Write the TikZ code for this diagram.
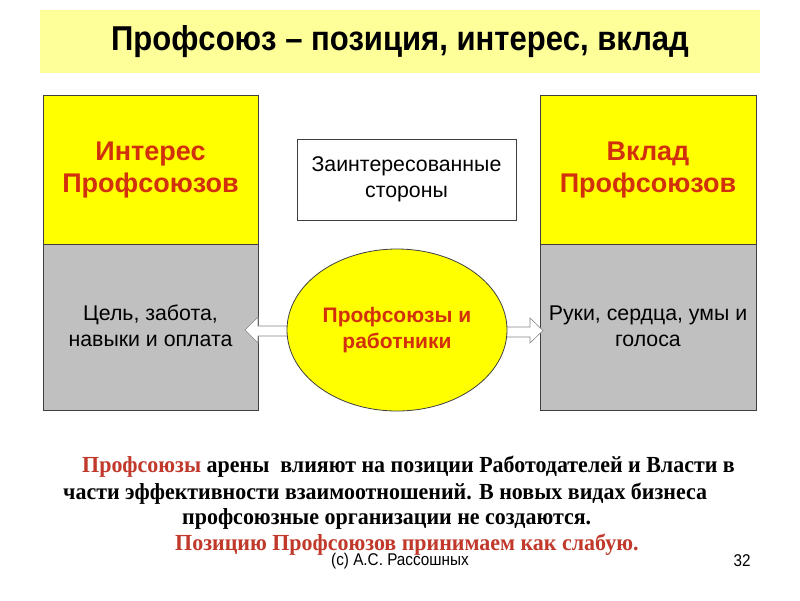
\documentclass[tikz,border=0pt]{standalone}
\usepackage{fontspec}
\setmainfont{Liberation Sans}
\newfontfamily\titlefont[FakeStretch=0.9]{Liberation Sans}
\newfontfamily\bodyserif[FakeStretch=0.955]{Liberation Serif}
\usetikzlibrary{shapes.geometric,shapes.arrows}
\definecolor{banner}{HTML}{FFFF99}
\definecolor{ylw}{HTML}{FFFF00}
\definecolor{gry}{HTML}{C0C0C0}
\definecolor{redt}{HTML}{D2300C}
\definecolor{redb}{HTML}{C0392B}
\definecolor{edge}{HTML}{404040}
\begin{document}
\begin{tikzpicture}[x=1pt,y=-1pt,
  yellowbox/.style={draw=edge,line width=0.8pt,fill=ylw},
  greybox/.style={draw=edge,line width=0.8pt,fill=gry},
  headtxt/.style={text=redt,font=\fontsize{27}{32}\selectfont\bfseries,align=center},
  plaintxt/.style={font=\fontsize{21.3}{26}\selectfont,align=center},
  blockarrow/.style={draw=gry!70!black,fill=white,line width=0.6pt},
  bodyline/.style={font=\bodyserif\fontsize{23}{26}\selectfont\bfseries,anchor=base west,inner sep=0pt}]
\useasboundingbox (0,0) rectangle (800,600);
\fill[white] (0,0) rectangle (800,600);
% title
\node[fill=banner,minimum width=720pt,minimum height=63pt,inner sep=0pt] (title) at (400,41.5)
  {\titlefont\fontsize{34.5}{38}\selectfont\bfseries Профсоюз – позиция, интерес, вклад};
% left box
\draw[yellowbox] (43,95) rectangle (258,244);
\draw[greybox] (43,244) rectangle (258,410);
\node[headtxt] (lh) at (150.5,170) {Интерес\\Профсоюзов};
\node[plaintxt] (lg) at (150.5,326) {Цель, забота,\\навыки и оплата};
% right box
\draw[yellowbox] (540,95) rectangle (756,244);
\draw[greybox] (540,244) rectangle (756,410);
\node[headtxt] (rh) at (648,170) {Вклад\\Профсоюзов};
\node[plaintxt] (rg) at (648,326) {Руки, сердца, умы и\\голоса};
% center box
\node[draw=edge,line width=0.8pt,fill=white,minimum width=219pt,minimum height=81pt,plaintxt] (stake) at (406.5,179.5) {Заинтересованные\\стороны};
% arrows
\draw[blockarrow] (288,326) -- (258,326) -- (258,317) -- (245,330) -- (258,343) -- (258,336) -- (288,336) -- cycle;
\draw[blockarrow] (502,327) -- (530,327) -- (530,318) -- (543,330.5) -- (530,343) -- (530,337) -- (502,337) -- cycle;
% ellipse
\node[ellipse,draw=edge,line width=0.8pt,fill=ylw,minimum width=220pt,minimum height=162pt,inner sep=0pt,
  text=redt,font=\fontsize{21}{25.5}\selectfont\bfseries,align=center] (ell) at (397,330) {Профсоюзы и\\работники};
% bottom text
\node[bodyline] (b1) at (82,472) {\textcolor{redb}{Профсоюзы} арены \ влияют на позиции Работодателей и Власти в};
\node[bodyline] (b2) at (63,499) {части эффективности взаимоотношений. В новых видах бизнеса};
\node[bodyline] (b3) at (182,524) {профсоюзные организации не создаются.};
\node[bodyline,text=redb] (b4) at (175,550) {Позицию Профсоюзов принимаем как слабую.};
% footer
\node[font=\titlefont\fontsize{17}{18}\selectfont] (foot) at (400,561) {(с) А.С. Рассошных};
\node[font=\titlefont\fontsize{17}{18}\selectfont] (num) at (742,561) {32};
\end{tikzpicture}
\end{document}
